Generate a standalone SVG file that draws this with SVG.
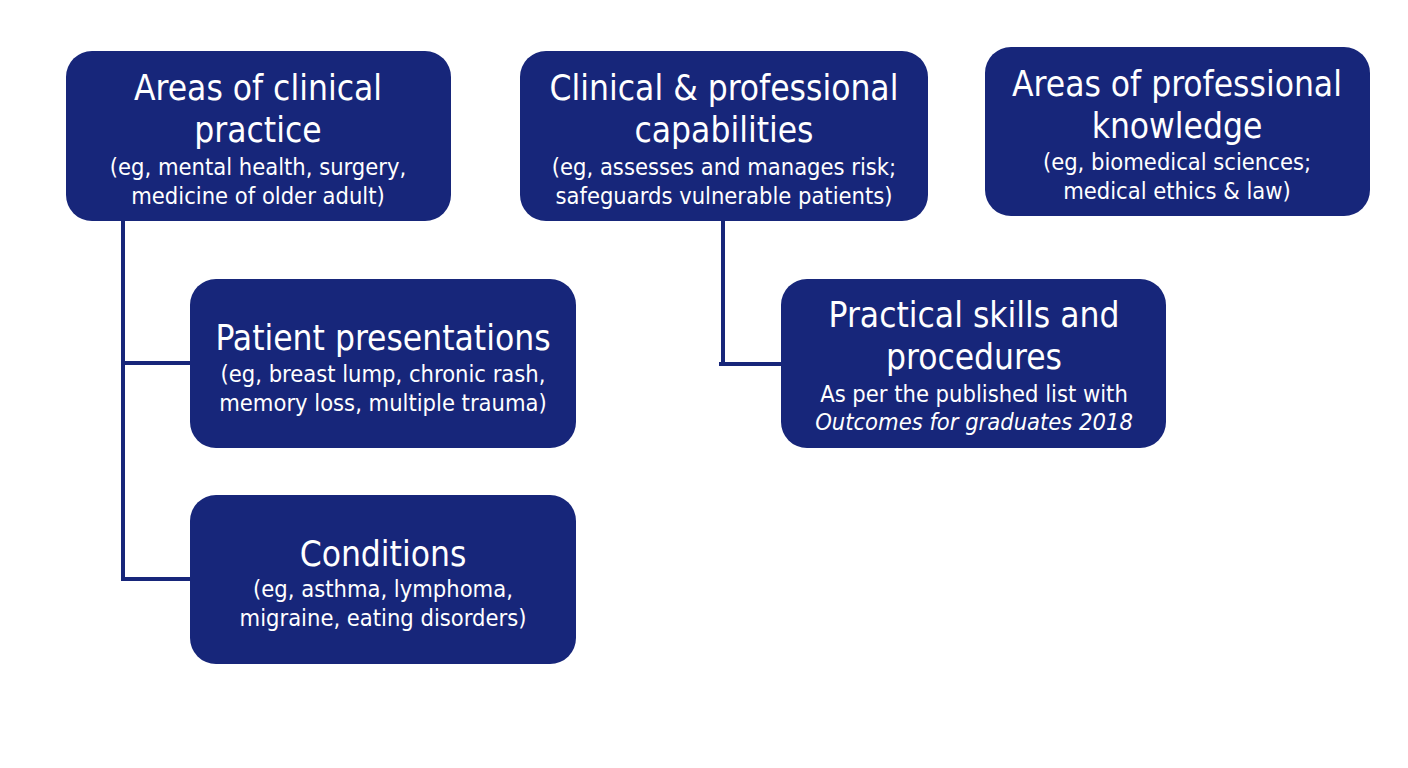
<svg xmlns="http://www.w3.org/2000/svg" width="1408" height="768" viewBox="0 0 1408 768">
<style>
.box{fill:#17267a}
.t{font-family:"DejaVu Sans Condensed","DejaVu Sans",sans-serif;fill:#fff;text-anchor:middle}
.h{font-size:35px}
.s{font-size:23.5px}
.i{font-style:italic}
.c{stroke:#17267a;stroke-width:4;fill:none}
</style>
<rect width="1408" height="768" fill="#fff"/>
<g id="connectors">
<path class="c" d="M123 221 V581 M121 363 H192 M121 579 H192"/>
<path class="c" d="M723 221 V366 M719 364 H783"/>
</g>
<g id="n1">
<rect class="box" x="66" y="51" width="385" height="170" rx="26"/>
<text class="t h" x="258" y="100">Areas of clinical</text>
<text class="t h" x="258" y="142">practice</text>
<text class="t s" x="258" y="175">(eg, mental health, surgery,</text>
<text class="t s" x="258" y="204">medicine of older adult)</text>
</g>
<g id="n2">
<rect class="box" x="520" y="51" width="408" height="170" rx="26"/>
<text class="t h" x="724" y="100">Clinical &amp; professional</text>
<text class="t h" x="724" y="142">capabilities</text>
<text class="t s" x="724" y="175">(eg, assesses and manages risk;</text>
<text class="t s" x="724" y="204">safeguards vulnerable patients)</text>
</g>
<g id="n3">
<rect class="box" x="985" y="47" width="385" height="169" rx="26"/>
<text class="t h" x="1177" y="96">Areas of professional</text>
<text class="t h" x="1177" y="138">knowledge</text>
<text class="t s" x="1177" y="170">(eg, biomedical sciences;</text>
<text class="t s" x="1177" y="199">medical ethics &amp; law)</text>
</g>
<g id="n4">
<rect class="box" x="190" y="279" width="386" height="169" rx="26"/>
<text class="t h" x="383" y="350">Patient presentations</text>
<text class="t s" x="383" y="382">(eg, breast lump, chronic rash,</text>
<text class="t s" x="383" y="411">memory loss, multiple trauma)</text>
</g>
<g id="n5">
<rect class="box" x="190" y="495" width="386" height="169" rx="26"/>
<text class="t h" x="383" y="566">Conditions</text>
<text class="t s" x="383" y="597">(eg, asthma, lymphoma,</text>
<text class="t s" x="383" y="626">migraine, eating disorders)</text>
</g>
<g id="n6">
<rect class="box" x="781" y="279" width="385" height="169" rx="26"/>
<text class="t h" x="974" y="327">Practical skills and</text>
<text class="t h" x="974" y="369">procedures</text>
<text class="t s" x="974" y="402">As per the published list with</text>
<text class="t s i" x="974" y="430">Outcomes for graduates 2018</text>
</g>
</svg>
